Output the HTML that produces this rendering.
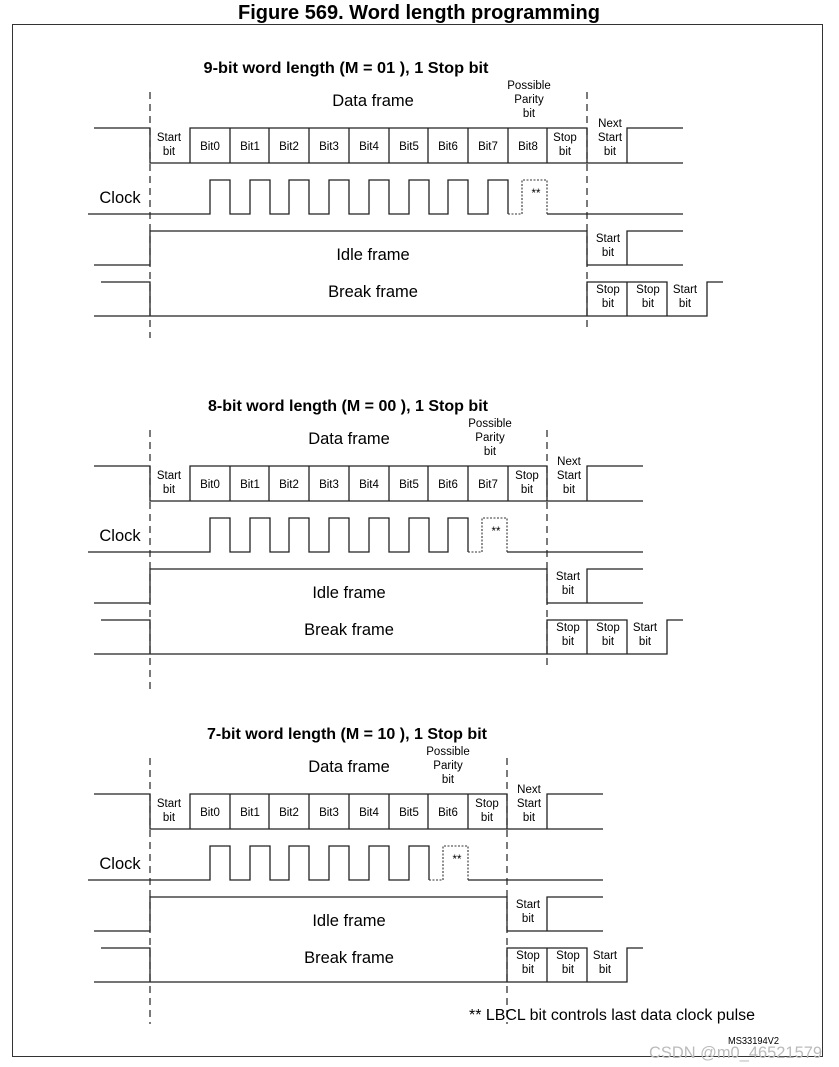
<!DOCTYPE html>
<html><head><meta charset="utf-8"><style>
html,body{margin:0;padding:0;background:#fff;}
svg{display:block;}
text{font-family:"Liberation Sans",Arial,sans-serif;fill:#000;}
.b{font-size:11.5px;text-anchor:middle;}
.m{font-size:16.5px;text-anchor:middle;}
.t{font-size:15.5px;font-weight:bold;text-anchor:middle;}
.w{fill:none;stroke:#222;stroke-width:1.3;}
.d{fill:none;stroke:#222;stroke-width:1.2;stroke-dasharray:7,5;}
.p{fill:none;stroke:#333;stroke-width:1.1;stroke-dasharray:2,1.5;}
</style></head><body>
<svg width="839" height="1067" viewBox="0 0 839 1067" xmlns="http://www.w3.org/2000/svg">
<text x="419" y="19" style="font-size:20px;font-weight:bold;text-anchor:middle" textLength="362" lengthAdjust="spacingAndGlyphs">Figure 569. Word length programming</text>
<rect x="12.5" y="24.5" width="810" height="1032" fill="none" stroke="#333" stroke-width="1"/>

<!-- Section 1: 9-bit -->
<g>
<text class="t" x="346" y="73" textLength="285" lengthAdjust="spacingAndGlyphs">9-bit word length (M = 01 ), 1 Stop bit</text>
<path class="d" d="M150 92V338 M587 92V332"/>
<path class="w" d="M94 128H150V163H683 M190 163V128H587V163 M627 163V128H683 M230 128V163 M269 128V163 M309 128V163 M349 128V163 M389 128V163 M428 128V163 M468 128V163 M508 128V163 M547 128V163"/>
<text class="m" x="373" y="106">Data frame</text>
<text class="b" x="169" y="141">Start</text><text class="b" x="169" y="155">bit</text>
<text class="b" x="210" y="150">Bit0</text><text class="b" x="250" y="150">Bit1</text><text class="b" x="289" y="150">Bit2</text><text class="b" x="329" y="150">Bit3</text><text class="b" x="369" y="150">Bit4</text><text class="b" x="409" y="150">Bit5</text><text class="b" x="448" y="150">Bit6</text><text class="b" x="488" y="150">Bit7</text><text class="b" x="528" y="150">Bit8</text>
<text class="b" x="565" y="141">Stop</text><text class="b" x="565" y="155">bit</text>
<text class="b" x="610" y="127">Next</text><text class="b" x="610" y="141">Start</text><text class="b" x="610" y="155">bit</text>
<text class="b" x="529" y="89">Possible</text><text class="b" x="529" y="103">Parity</text><text class="b" x="529" y="117">bit</text>
<text class="m" x="120" y="203">Clock</text>
<path class="w" d="M88 214H210V180H230V214H250V180H270V214H289V180H309V214H329V180H349V214H369V180H389V214H409V180H429V214H448V180H468V214H488V180H508V214 M547 214H683"/>
<path class="p" d="M508 214H522V180H547V214"/>
<text class="b" x="536" y="197">**</text>
<path class="w" d="M94 265H150V231H587V265H683 M627 265V231H683"/>
<text class="m" x="373" y="260">Idle frame</text>
<text class="b" x="608" y="242">Start</text><text class="b" x="608" y="256">bit</text>
<path class="w" d="M101 282H150V316 M94 316H707V282H723 M587 316V282H667V316 M627 282V316"/>
<text class="m" x="373" y="297">Break frame</text>
<text class="b" x="608" y="293">Stop</text><text class="b" x="608" y="307">bit</text>
<text class="b" x="648" y="293">Stop</text><text class="b" x="648" y="307">bit</text>
<text class="b" x="685" y="293">Start</text><text class="b" x="685" y="307">bit</text>
</g>

<!-- Section 2: 8-bit -->
<g transform="translate(0,338)">
<text class="t" x="348" y="73" textLength="280" lengthAdjust="spacingAndGlyphs">8-bit word length (M = 00 ), 1 Stop bit</text>
<path class="d" d="M150 92V352 M547 92V332"/>
<path class="w" d="M94 128H150V163H643 M190 163V128H547V163 M587 163V128H643 M230 128V163 M269 128V163 M309 128V163 M349 128V163 M389 128V163 M428 128V163 M468 128V163 M508 128V163"/>
<text class="m" x="349" y="106">Data frame</text>
<text class="b" x="169" y="141">Start</text><text class="b" x="169" y="155">bit</text>
<text class="b" x="210" y="150">Bit0</text><text class="b" x="250" y="150">Bit1</text><text class="b" x="289" y="150">Bit2</text><text class="b" x="329" y="150">Bit3</text><text class="b" x="369" y="150">Bit4</text><text class="b" x="409" y="150">Bit5</text><text class="b" x="448" y="150">Bit6</text><text class="b" x="488" y="150">Bit7</text>
<text class="b" x="527" y="141">Stop</text><text class="b" x="527" y="155">bit</text>
<text class="b" x="569" y="127">Next</text><text class="b" x="569" y="141">Start</text><text class="b" x="569" y="155">bit</text>
<text class="b" x="490" y="89">Possible</text><text class="b" x="490" y="103">Parity</text><text class="b" x="490" y="117">bit</text>
<text class="m" x="120" y="203">Clock</text>
<path class="w" d="M88 214H210V180H230V214H250V180H270V214H289V180H309V214H329V180H349V214H369V180H389V214H409V180H429V214H448V180H468V214 M507 214H643"/>
<path class="p" d="M468 214H482V180H507V214"/>
<text class="b" x="496" y="197">**</text>
<path class="w" d="M94 265H150V231H547V265H643 M587 265V231H643"/>
<text class="m" x="349" y="260">Idle frame</text>
<text class="b" x="568" y="242">Start</text><text class="b" x="568" y="256">bit</text>
<path class="w" d="M101 282H150V316 M94 316H667V282H683 M547 316V282H627V316 M587 282V316"/>
<text class="m" x="349" y="297">Break frame</text>
<text class="b" x="568" y="293">Stop</text><text class="b" x="568" y="307">bit</text>
<text class="b" x="608" y="293">Stop</text><text class="b" x="608" y="307">bit</text>
<text class="b" x="645" y="293">Start</text><text class="b" x="645" y="307">bit</text>
</g>

<!-- Section 3: 7-bit -->
<g transform="translate(0,666)">
<text class="t" x="347" y="73" textLength="280" lengthAdjust="spacingAndGlyphs">7-bit word length (M = 10 ), 1 Stop bit</text>
<path class="d" d="M150 92V358 M507 92V358"/>
<path class="w" d="M94 128H150V163H603 M190 163V128H507V163 M547 163V128H603 M230 128V163 M269 128V163 M309 128V163 M349 128V163 M389 128V163 M428 128V163 M468 128V163"/>
<text class="m" x="349" y="106">Data frame</text>
<text class="b" x="169" y="141">Start</text><text class="b" x="169" y="155">bit</text>
<text class="b" x="210" y="150">Bit0</text><text class="b" x="250" y="150">Bit1</text><text class="b" x="289" y="150">Bit2</text><text class="b" x="329" y="150">Bit3</text><text class="b" x="369" y="150">Bit4</text><text class="b" x="409" y="150">Bit5</text><text class="b" x="448" y="150">Bit6</text>
<text class="b" x="487" y="141">Stop</text><text class="b" x="487" y="155">bit</text>
<text class="b" x="529" y="127">Next</text><text class="b" x="529" y="141">Start</text><text class="b" x="529" y="155">bit</text>
<text class="b" x="448" y="89">Possible</text><text class="b" x="448" y="103">Parity</text><text class="b" x="448" y="117">bit</text>
<text class="m" x="120" y="203">Clock</text>
<path class="w" d="M88 214H210V180H230V214H250V180H270V214H289V180H309V214H329V180H349V214H369V180H389V214H409V180H429V214 M468 214H603"/>
<path class="p" d="M429 214H443V180H468V214"/>
<text class="b" x="457" y="197">**</text>
<path class="w" d="M94 265H150V231H507V265H603 M547 265V231H603"/>
<text class="m" x="349" y="260">Idle frame</text>
<text class="b" x="528" y="242">Start</text><text class="b" x="528" y="256">bit</text>
<path class="w" d="M101 282H150V316 M94 316H627V282H643 M507 316V282H587V316 M547 282V316"/>
<text class="m" x="349" y="297">Break frame</text>
<text class="b" x="528" y="293">Stop</text><text class="b" x="528" y="307">bit</text>
<text class="b" x="568" y="293">Stop</text><text class="b" x="568" y="307">bit</text>
<text class="b" x="605" y="293">Start</text><text class="b" x="605" y="307">bit</text>
</g>

<text x="469" y="1020" style="font-size:15.5px" textLength="286" lengthAdjust="spacingAndGlyphs">** LBCL bit controls last data clock pulse</text>
<text x="728" y="1044" style="font-size:10.5px" textLength="51" lengthAdjust="spacingAndGlyphs">MS33194V2</text>
<text x="649" y="1058" style="font-size:17px;fill:#bbb" textLength="173" lengthAdjust="spacingAndGlyphs">CSDN @m0_46521579</text>
</svg>
</body></html>
